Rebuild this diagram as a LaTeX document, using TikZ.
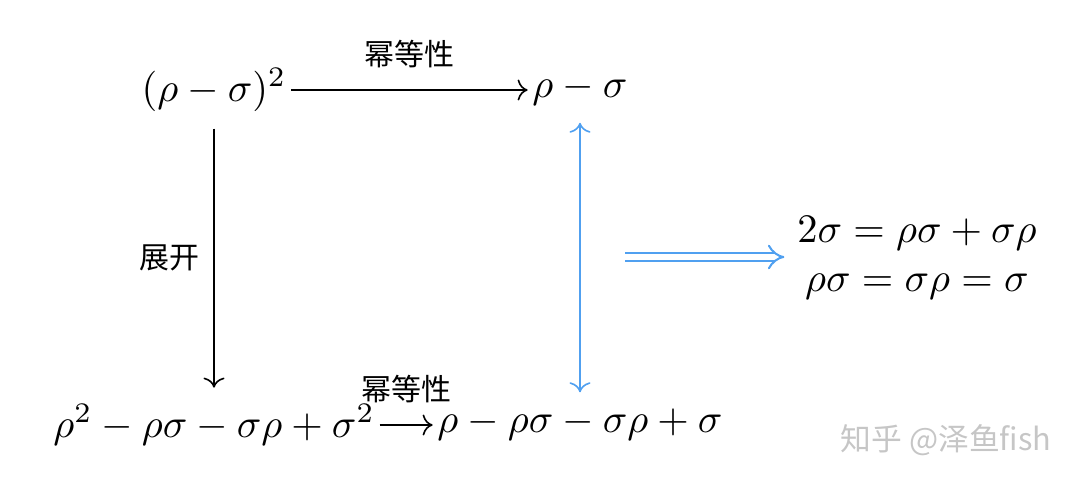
\documentclass[tikz,border=0pt]{standalone}
\usepackage{fontspec}
\newfontfamily\cjk{Noto Sans CJK SC}
\usetikzlibrary{arrows.meta}
\definecolor{linkblue}{RGB}{80,160,240}
\tikzset{
	term/.style={inner sep=1pt},
	lab/.style={font=\cjk\fontsize{7.4}{9}\selectfont},
}
\begin{document}
\begin{tikzpicture}[x=0.247pt,y=-0.247pt]
		\useasboundingbox (0,0) rectangle (1085,487);
		\node[term] at (214,90) (a) {$(\rho-\sigma)^2$};
		\node[term] at (580,90) (b) {$\rho-\sigma$};
		\node[term] at (214,425) (c) {$\rho^2-\rho\sigma-\sigma\rho+\sigma^2$};
		\node[term] at (580,425) (d) {$\rho-\rho\sigma-\sigma\rho+\sigma$};
		\node[term, align=center] at (917,258) (e) {$2\sigma=\rho\sigma+\sigma\rho$\\$\rho\sigma=\sigma\rho=\sigma$};
		\coordinate (m) at (625,257);
		\node[font=\cjk\fontsize{7.6}{9}\selectfont, text=gray!45] at (946,440) (w) {知乎 @泽鱼fish};
		
		\draw[->] (a) -- node[midway, above=2pt, lab] {幂等性} (b);
		\draw[->, shorten <=3pt, shorten >=3pt] (a) -- node[midway, left, lab] {展开} (c);
		\draw[->] (c) -- node[midway, above=2pt, lab] {幂等性} (d);
		
		\draw[linkblue, <->, shorten <=3pt, shorten >=3pt] (b) -- (d);
		\draw[linkblue, line width=0.5pt, double, double distance=1.6pt, -{Implies}, shorten >=2pt] (m) -- (e.west |- m);
	\end{tikzpicture}
\end{document}
